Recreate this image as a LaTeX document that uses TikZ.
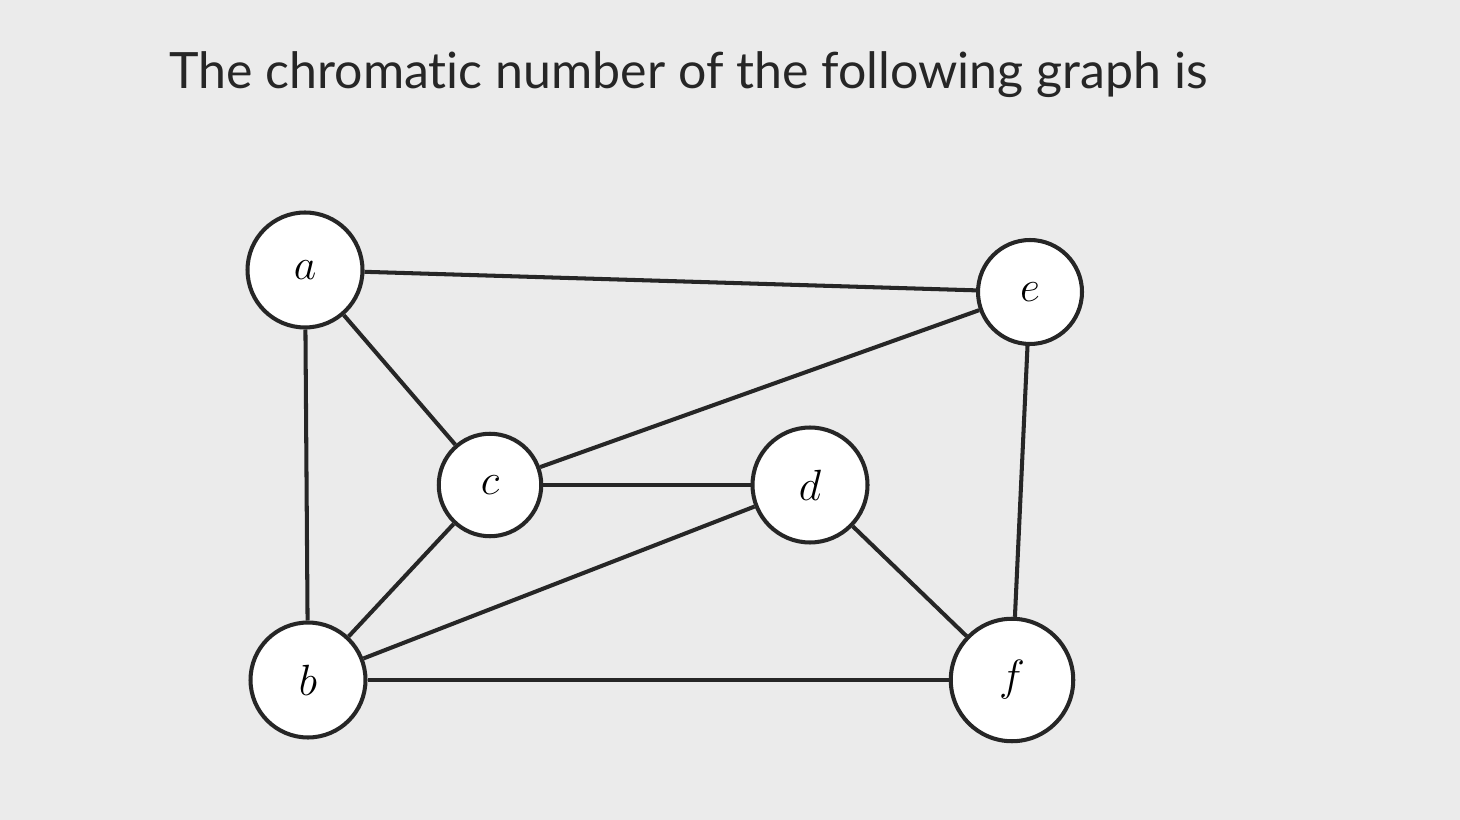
\documentclass[tikz,border=0pt]{standalone}
\usepackage{fontspec}
\setmainfont{Lato}[Ligatures={NoCommon}]
\begin{document}
\begin{tikzpicture}[x=0.02cm,y=-0.02cm,
  vtx/.style={circle,draw=black!85,line width=2.3pt,fill=white,inner sep=0pt,font=\fontsize{30}{30}\selectfont},
  edge/.style={draw=black!85,line width=2.3pt}]
\fill[black!8] (0,0) rectangle (1460,820);
\useasboundingbox (0,0) rectangle (1460,820);
\node[anchor=west,font=\fontsize{28.5}{32}\selectfont,text=black!85] (title) at (163,75) {The chromatic number of the following graph is};
\node[vtx,minimum size=2.3cm] (a) at (305,270) {$a$};
\node[vtx,minimum size=2.08cm] (e) at (1030,292) {$e$};
\node[vtx,minimum size=2.05cm] (c) at (490,485) {$c$};
\node[vtx,minimum size=2.3cm] (d) at (810,485) {$d$};
\node[vtx,minimum size=2.3cm] (b) at (308,680) {$b$};
\node[vtx,minimum size=2.45cm] (f) at (1012,680) {$f$};
\draw[edge] (a) -- (e);
\draw[edge] (a) -- (b);
\draw[edge] (a) -- (c);
\draw[edge] (c) -- (e);
\draw[edge] (c) -- (d);
\draw[edge] (c) -- (b);
\draw[edge] (d) -- (b);
\draw[edge] (d) -- (f);
\draw[edge] (e) -- (f);
\draw[edge] (b) -- (f);
\end{tikzpicture}
\end{document}
